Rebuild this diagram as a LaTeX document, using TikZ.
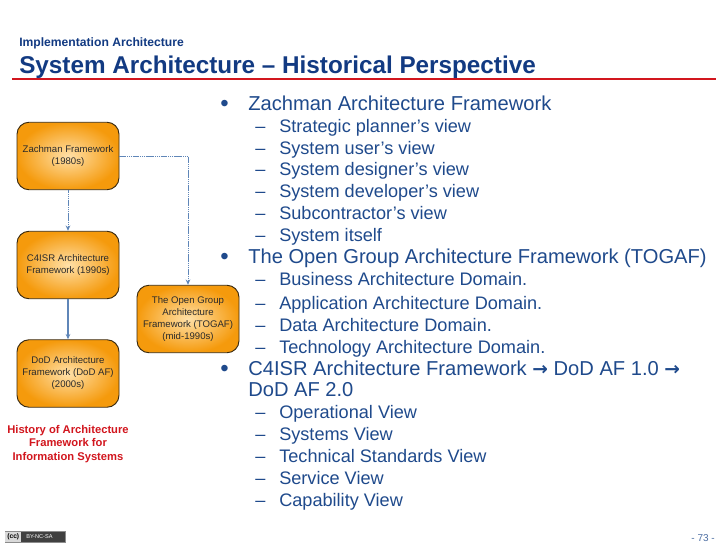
\documentclass[tikz,border=0pt]{standalone}
\usepackage{fontspec}
\setmainfont{Liberation Sans}
\newfontfamily\arrowfont{DejaVu Sans}[BoldFont={DejaVu Sans Bold}]
\usetikzlibrary{arrows.meta}
\definecolor{navy}{HTML}{123A82}
\definecolor{bodyblue}{HTML}{1F4A8C}
\definecolor{rulered}{HTML}{D2161E}
\definecolor{boxout}{HTML}{F59A0C}
\definecolor{boxin}{HTML}{FFE0A8}
\definecolor{linkblue}{HTML}{5F86B8}
\definecolor{boxedge}{HTML}{3A2A10}
\definecolor{boxtext}{HTML}{2A2A2A}
\tikzset{
  x=0.75pt,y=-0.75pt,
  flowbox/.style={draw=boxedge,line width=0.7pt,rounded corners=9pt,minimum width=76.5pt,minimum height=50.6pt,inner sep=0pt,inner color=boxin,outer color=boxout,font=\fontsize{7.2}{9}\selectfont,text=boxtext,align=center},
  link/.style={draw=linkblue,line width=0.75pt,-{Stealth[length=4pt,width=3.5pt]}},
  dotlink/.style={link,dash pattern=on 1pt off 0.4pt},
  lvla/.style={anchor=base west,inner sep=0pt,text=bodyblue,font=\fontsize{15.1}{16}\selectfont},
  lvlb/.style={anchor=base west,inner sep=0pt,text=bodyblue,font=\fontsize{13.6}{14}\selectfont},
  bulletmark/.style={anchor=base west,inner sep=0pt,text=bodyblue,font=\fontsize{18}{18}\selectfont},
}
\newcommand{\arr}{{\arrowfont\bfseries\fontsize{14}{14}\selectfont →}}
\begin{document}
\begin{tikzpicture}
\useasboundingbox[fill=white] (0,0) rectangle (728,546);
% header
\node[anchor=base west,inner sep=0pt,text=navy,font=\bfseries\fontsize{9.1}{10}\selectfont] (kicker) at (19,46.5) {Implementation Architecture};
\node[anchor=base west,inner sep=0pt,text=navy,font=\bfseries\fontsize{18.2}{20}\selectfont] (title) at (19,73) {System Architecture – Historical Perspective};
\coordinate (ruleL) at (12,78.5);
\coordinate (ruleR) at (716,78.5);
\draw[rulered,line width=1.5pt] (ruleL) -- (ruleR);
% flow boxes
\node[flowbox] (zach) at (68,156) {Zachman Framework\\(1980s)};
\node[flowbox] (c4) at (68,265) {C4ISR Architecture\\Framework (1990s)};
\node[flowbox] (dod) at (68,373.5) {DoD Architecture\\Framework (DoD AF)\\(2000s)};
\node[flowbox] (togaf) at (188,319) {The Open Group\\Architecture\\Framework (TOGAF)\\(mid-1990s)};
\draw[dotlink] (zach) -- (c4);
\draw[link,line width=0.9pt] (c4) -- (dod);
\draw[dotlink] (zach.east |- 0,156) -| (togaf.north);
\node[anchor=center,inner sep=0pt,align=center,text=rulered,font=\bfseries\fontsize{8.4}{10.1}\selectfont] (hist) at (68,444) {History of Architecture\\Framework for\\Information Systems};
% text column
\node[bulletmark] (b1) at (220,111.5) {•};
\node[lvla] (t1) at (248,110.7) {Zachman Architecture Framework};
\foreach \n/\y/\s in {a/132.7/Strategic planner’s view,b/154.7/System user’s view,c/175.7/System designer’s view,d/197.7/System developer’s view,e/219.7/Subcontractor’s view,f/241.7/System itself}{
  \node[lvlb] (d\n) at (255,\y) {–};
  \node[lvlb] (s\n) at (279,\y) {\s};
}
\node[bulletmark] (b2) at (220,264.5) {•};
\node[lvla] (t2) at (248,263.7) {The Open Group Architecture Framework (TOGAF)};
\foreach \n/\y/\s in {g/285.7/Business Architecture Domain.,h/309.7/Application Architecture Domain.,i/331.7/Data Architecture Domain.,j/353.7/Technology Architecture Domain.}{
  \node[lvlb] (d\n) at (255,\y) {–};
  \node[lvlb] (s\n) at (279,\y) {\s};
}
\node[bulletmark] (b3) at (220,376.5) {•};
\node[lvla] (t3) at (248,375.7) {C4ISR Architecture Framework \arr{} DoD AF 1.0 \arr};
\node[lvla] (t4) at (248,396.7) {DoD AF 2.0};
\foreach \n/\y/\s in {k/418.7/Operational View,l/440.7/Systems View,m/462.7/Technical Standards View,n/484.7/Service View,o/506.7/Capability View}{
  \node[lvlb] (d\n) at (255,\y) {–};
  \node[lvlb] (s\n) at (279,\y) {\s};
}
% footer
\node[anchor=west,draw=black!45,fill=black!75,minimum width=45pt,minimum height=8.5pt,inner sep=0pt] (cc) at (5,537) {};
\node[anchor=west,fill=black!15,minimum width=12pt,minimum height=7.6pt,inner sep=0pt,font=\bfseries\fontsize{5}{5}\selectfont,text=black] (ccl) at (cc.west) {(cc)};
\node[anchor=west,inner sep=0pt,font=\fontsize{4.2}{4}\selectfont,text=white] (cct) at (26,537) {BY-NC-SA};
\node[anchor=base east,inner sep=0pt,text=bodyblue!80,font=\fontsize{7.5}{9}\selectfont] (page) at (715,541) {- 73 -};
\end{tikzpicture}
\end{document}
